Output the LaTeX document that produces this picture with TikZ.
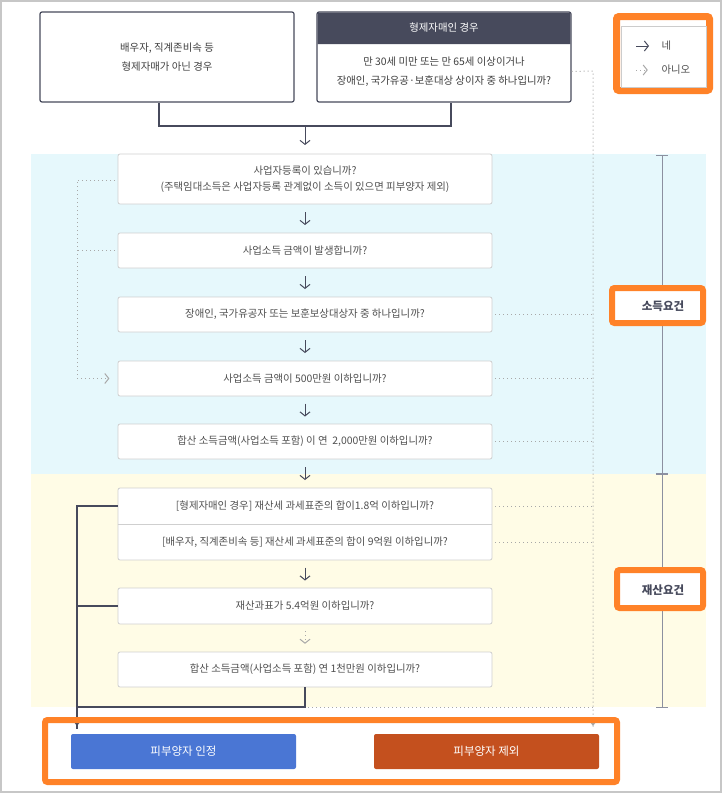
\documentclass[tikz,border=0pt]{standalone}
\usepackage{fontspec}
\setmainfont{Noto Sans CJK KR}
\usetikzlibrary{arrows.meta,calc}
\definecolor{dk}{HTML}{474A5C}
\definecolor{txt}{HTML}{505050}
\definecolor{bdr}{HTML}{CFCFCF}
\definecolor{blu}{HTML}{E6F8FC}
\definecolor{yel}{HTML}{FFFCE6}
\definecolor{org}{HTML}{FF8228}
\definecolor{dotc}{HTML}{A8A8A8}
\definecolor{btnb}{HTML}{4A76D4}
\definecolor{btnr}{HTML}{C4501E}
\definecolor{brk}{HTML}{8C90A0}
\newcommand\fsq{\fontsize{10.4}{16}\selectfont}
\newcommand\fst{\fontsize{10.4}{19}\selectfont}
\newcommand\dnarrow[3][]{\draw[darr,#1] ($(#2.south)!0.5!(#3.north)+(0,-6.5)$) -- ($(#2.south)!0.5!(#3.north)+(0,6.5)$);}
\begin{document}
\begin{tikzpicture}[x=1pt,y=-1pt,font=\fsq,
  qbox/.style={draw=bdr,fill=white,rounded corners=2pt,line width=0.8pt,minimum width=374pt,minimum height=35pt,inner sep=0pt,text=txt,align=center},
  tbox/.style={draw=dk,fill=white,rounded corners=2pt,line width=1.2pt,minimum width=254pt,minimum height=90pt,inner sep=0pt},
  darr/.style={draw=dk,line width=1pt,-{Straight Barb[length=4pt,width=10pt,line width=1pt]}},
  garr/.style={draw=dotc,line width=1pt,dash pattern=on 1pt off 3pt,-{Straight Barb[length=4pt,width=10pt,line width=1pt,sep]}},
  dotl/.style={draw=dotc,line width=1pt,dash pattern=on 1pt off 3pt},
  solid line/.style={draw=dk,line width=1.4pt},
  orgframe/.style={draw=org,line width=6pt,rounded corners=2.5pt},
  lab/.style={text=dk,font=\fontsize{11.5}{13}\selectfont\bfseries},
  btn/.style={minimum width=225pt,minimum height=35pt,rounded corners=2pt,inner sep=0pt,text=white,font=\fontsize{11.5}{13}\selectfont}
]
\path[use as bounding box] (0,0) rectangle (723,795);
\fill[white] (0,0) rectangle (723,795);
\draw[black!22,line width=2pt] (1,1) rectangle (721,792);

% regions
\fill[blu] (31,154) rectangle (706,474);
\fill[yel] (31,474) rectangle (706,707);

% brackets
\draw[brk,line width=0.9pt] (656,155)--(668,155) (662,155)--(662,473.5) (656,473.5)--(668,473.5);
\draw[brk,line width=0.9pt] (656,474.5)--(668,474.5) (662,474.5)--(662,707) (656,707)--(668,707);

% top boxes
\node[tbox] (tl) at (167,57) {};
\node[align=center,text=black!75,font=\fst] (tlt) at (167,57) {배우자, 직계존비속 등\\형제자매가 아닌 경우};
\node[tbox] (tr) at (444,57) {};
\fill[dk] (317.6,44) [rounded corners=2pt] -- (317.6,12.6) -- (570.4,12.6) [sharp corners] -- (570.4,44) -- cycle;
\node[text=white,font=\fst] (trh) at (444,28) {형제자매인 경우};
\node[align=center,text=black!75,font=\fst] (trb) at (444,71.5) {만 30세 미만 또는 만 65세 이상이거나\\장애인, 국가유공·보훈대상 상이자 중 하나입니까?};

% merge connector
\coordinate (jt) at (305,126);
\draw[solid line] ([xshift=-8pt]tl.south) -- ([xshift=-8pt]tl.south |- jt) -- ([xshift=7pt]tr.south |- jt) -- ([xshift=7pt]tr.south);
\draw[darr] (jt) -- ++(0,19);

% income boxes
\node[qbox,minimum height=50pt] (b1) at (305,179) {사업자등록이 있습니까?\\(주택임대소득은 사업자등록 관계없이 소득이 있으면 피부양자 제외)};
\node[qbox] (b2) at (305,250.5) {사업소득 금액이 발생합니까?};
\node[qbox] (b3) at (305,314.5) {장애인, 국가유공자 또는 보훈보상대상자 중 하나입니까?};
\node[qbox] (b4) at (305,378.5) {사업소득 금액이 500만원 이하입니까?};
\node[qbox] (b5) at (305,441.5) {합산 소득금액(사업소득 포함) 이 연 \ 2,000만원 이하입니까?};

% asset boxes
\node[qbox,minimum height=72pt] (b6) at (305,524) {};
\draw[bdr,line width=0.8pt] (b6.west) -- (b6.east);
\node[text=txt] (b6a) at (305,506) {[형제자매인 경우] 재산세 과세표준의 합이1.8억 이하입니까?};
\node[text=txt] (b6b) at (305,542) {[배우자, 직계존비속 등] 재산세 과세표준의 합이 9억원 이하입니까?};
\node[qbox,minimum height=36pt] (b7) at (305,606) {재산과표가 5.4억원 이하입니까?};
\node[qbox] (b8) at (305,669.5) {합산 소득금액(사업소득 포함) 연 1천만원 이하입니까?};

% down arrows
\dnarrow{b1}{b2}
\dnarrow{b2}{b3}
\dnarrow{b3}{b4}
\dnarrow{b4}{b5}
\dnarrow{b5}{b6}
\dnarrow{b6}{b7}
\draw[garr] ($(b7.south)!0.5!(b8.north)+(0,-7)$) -- ($(b7.south)!0.5!(b8.north)+(0,7)$);

% left dotted (no)
\coordinate (lx) at (77,180);
\draw[dotl] ([xshift=-3pt]b1.west |- lx) -- (lx) -- (lx |- b4.west);
\draw[dotl] ([xshift=-3pt]b2.west) -- (b2.west -| lx);
\draw[garr] (lx |- b4.west) -- ([xshift=-7pt]b4.west);

% right dotted (no) to exclusion
\coordinate (vx) at (593,71);
\coordinate (vend) at (593,726);
\draw[dotl] (tr.east |- trb.center) -- (vx) -- ([yshift=-3pt]vend);
\fill[dotc] (vend) -- ++(-3,-4) -- ++(6,0) -- cycle;
\draw[dotl] ([xshift=3pt]b3.east) -- (b3.east -| vx);
\draw[dotl] ([xshift=3pt]b4.east) -- (b4.east -| vx);
\draw[dotl] ([xshift=3pt]b5.east) -- (b5.east -| vx);
\draw[dotl] ([xshift=3pt]b6.east |- b6a) -- (vx |- b6a);
\draw[dotl] ([xshift=3pt]b6.east |- b6b) -- (vx |- b6b);

% left solid (yes) to recognition
\coordinate (sx) at (77,506);
\coordinate (send) at (77,726);
\coordinate (j) at (305,707);
\draw[solid line] (b6.west |- b6a) -- (sx) -- ([yshift=-3pt]send);
\fill[dk] (send) -- ++(-3,-4) -- ++(6,0) -- cycle;
\draw[solid line] (b7.west) -- (b7.west -| sx);
\draw[solid line] (b8.south) -- (j) -- (j -| sx);
\draw[dotl] ([xshift=3pt]j) -- (j -| vx);

% section labels
\draw[orgframe,fill=white] (612,288) rectangle (703,323);
\node[lab] (l1) at (663,306) {소득요건};
\draw[orgframe,fill=white] (617,570) rectangle (703,608);
\node[lab] (l2) at (663,590) {재산요건};

% legend
\draw[orgframe,line width=7pt] (616.5,16.5) rectangle (709.5,90.5);
\draw[black!20,line width=0.8pt] (621,26) rectangle (706,87);
\coordinate (la1) at (636,46);
\coordinate (la2) at (636,70);
\draw[darr] (la1) -- ++(13,0);
\draw[garr] (la2) -- ++(13,0);
\node[anchor=west,text=txt] (n1) at (658,46) {네};
\node[anchor=west,text=txt] (n2) at (658,70) {아니오};

% result buttons
\draw[orgframe] (45,720) rectangle (617,782);
\node[btn,fill=btnb] (yes) at (183.5,751.5) {피부양자 인정};
\node[btn,fill=btnr] (no) at (486.5,751.5) {피부양자 제외};
\end{tikzpicture}
\end{document}
